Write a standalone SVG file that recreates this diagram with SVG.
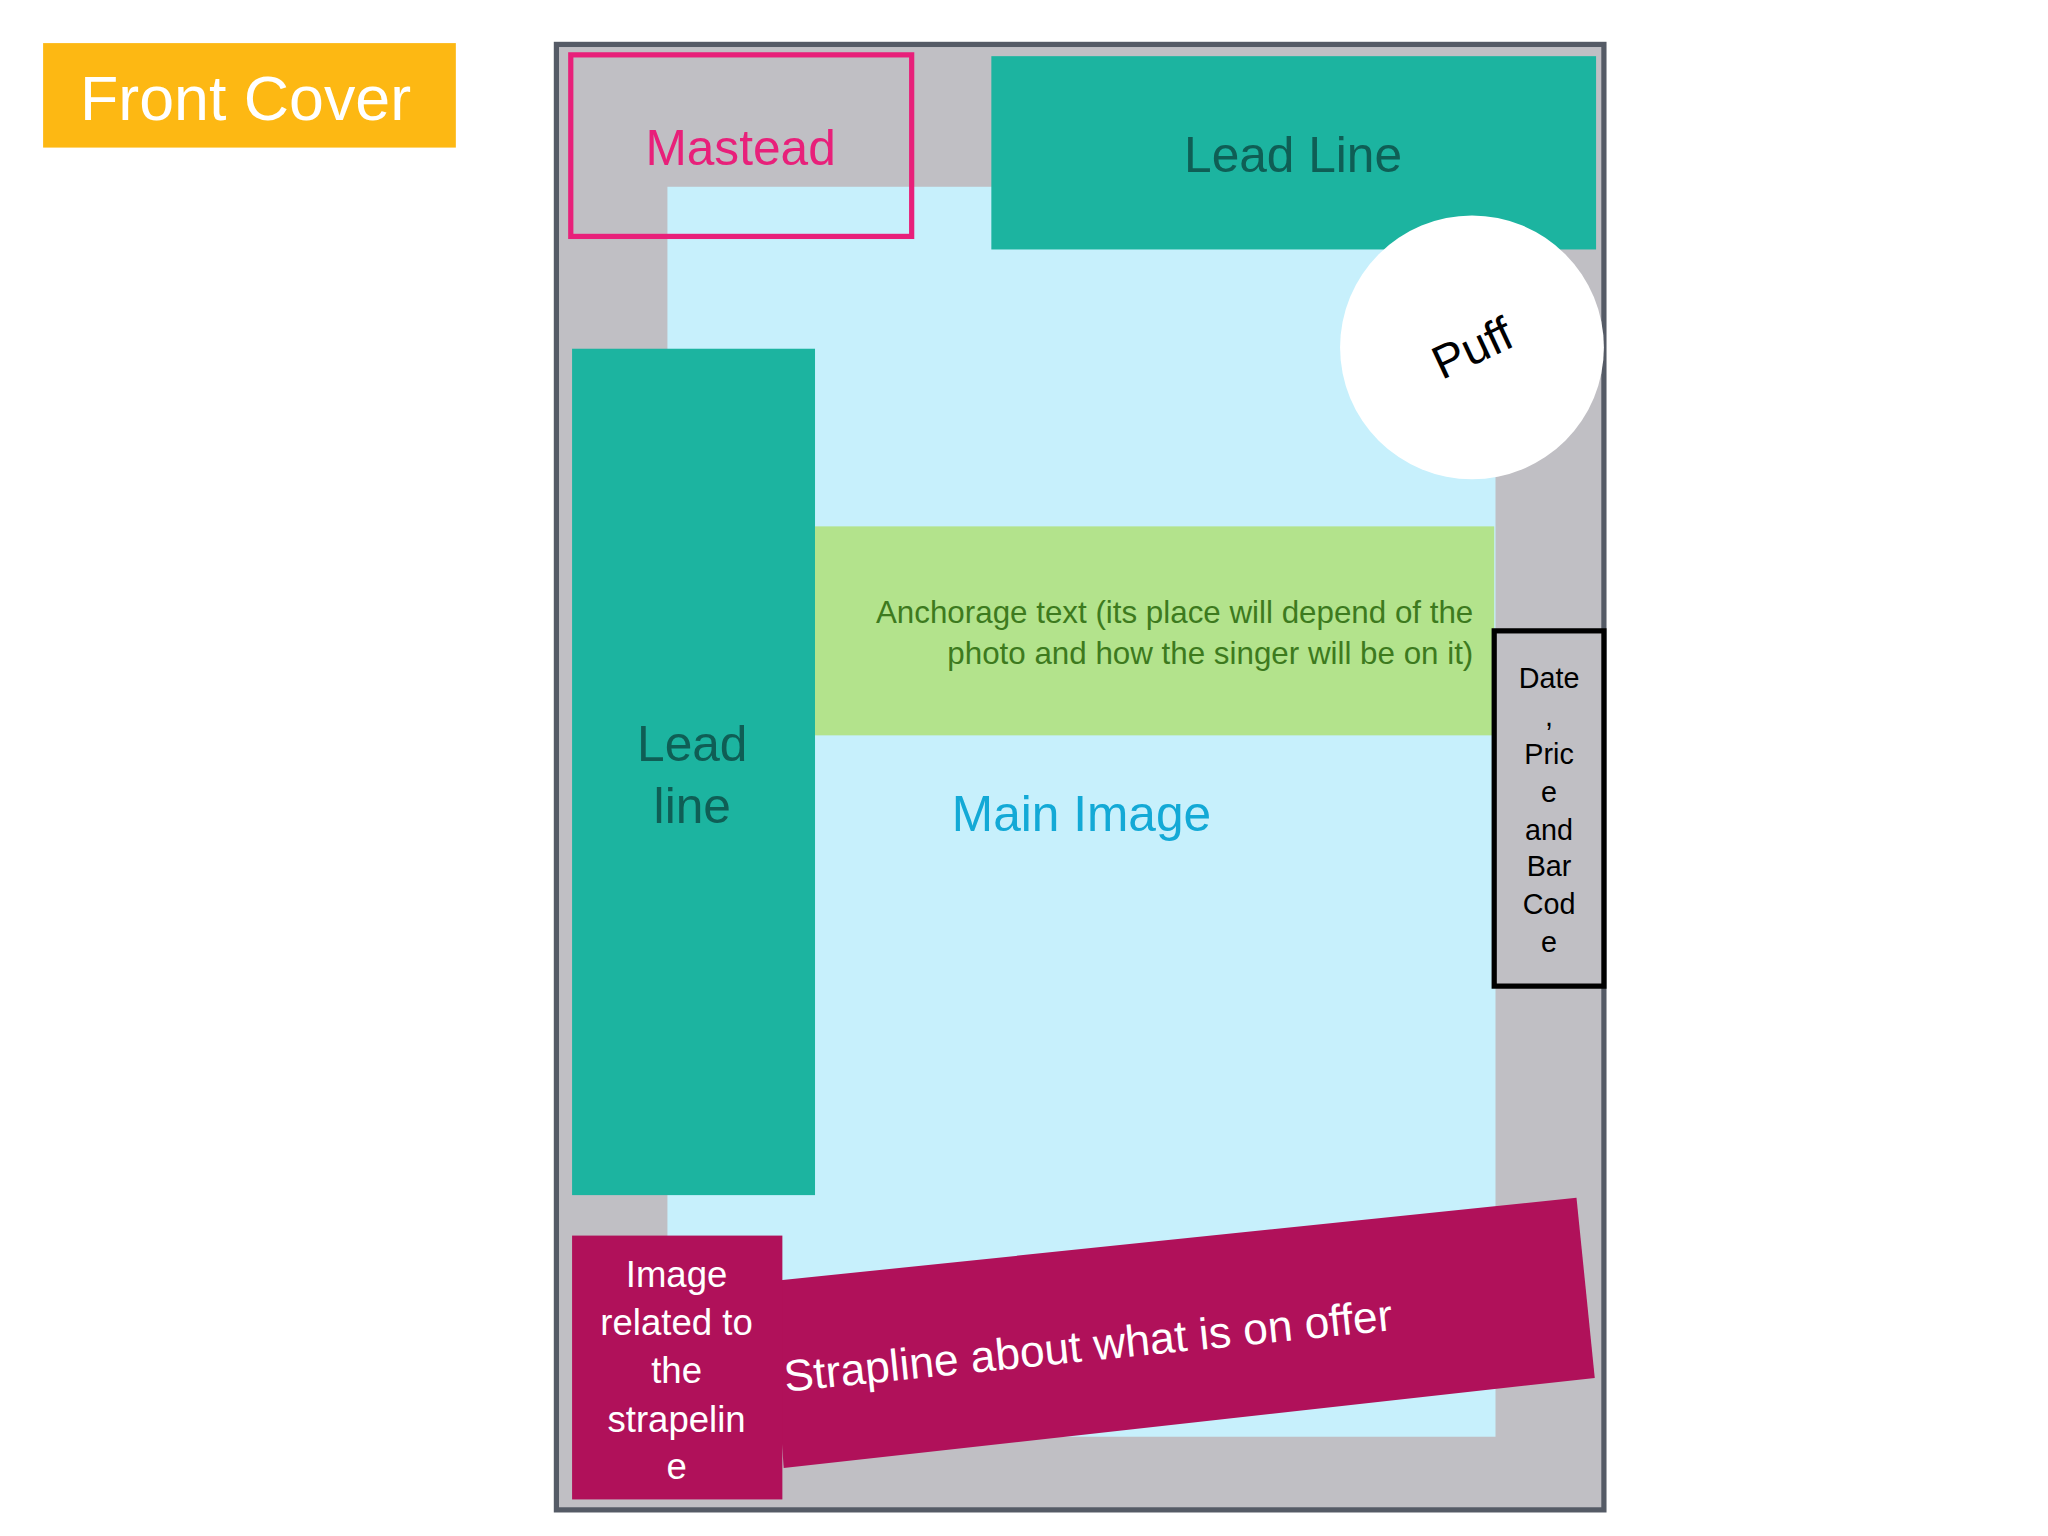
<svg xmlns="http://www.w3.org/2000/svg" width="2048" height="1536" viewBox="0 0 2048 1536">
<style>
text{font-family:"Liberation Sans",Arial,sans-serif;text-anchor:middle}
.w{fill:#fff}
</style>
<rect width="2048" height="1536" fill="#fff"/>
<g transform="scale(1.30612)">
<g id="title"><rect x="33" y="33" width="316" height="80" fill="#FDB813"/><text x="188" y="92" font-size="48" class="w">Front Cover</text></g>
<g id="page"><rect x="426" y="34" width="802" height="1122" fill="#C0BFC4" stroke="#555B66" stroke-width="4"/></g>
<g id="main"><rect x="511" y="143" width="634" height="957" fill="#C7F0FC"/><text x="828" y="636" font-size="38" fill="#13A9D6">Main Image</text></g>
<g id="mastead"><rect x="437" y="42" width="261" height="139" fill="none" stroke="#E8207A" stroke-width="4"/><text x="567" y="126" font-size="38" fill="#E8207A">Mastead</text></g>
<g id="leadtop"><rect x="759" y="43" width="463" height="148" fill="#1CB4A0"/><text x="990" y="132" font-size="38" fill="#0F5E55">Lead Line</text></g>
<g id="puff"><circle cx="1127" cy="266" r="101" fill="#fff"/><text x="1127" y="279" font-size="36" fill="#000" transform="rotate(-25 1127 266)">Puff</text></g>
<g id="leadleft"><rect x="438" y="267" width="186" height="648" fill="#1CB4A0"/><text x="530" y="583" font-size="38" fill="#0F5E55">Lead</text><text x="530" y="630" font-size="38" fill="#0F5E55">line</text></g>
<g id="anchor"><rect x="624" y="403" width="520" height="160" fill="#B3E38C"/><text x="1128" y="477" font-size="24" fill="#3D7A1E" text-anchor="end" style="text-anchor:end">Anchorage text (its place will depend of the</text><text x="1128" y="508" font-size="24" fill="#3D7A1E" style="text-anchor:end">photo and how the singer will be on it)</text></g>
<g id="date"><rect x="1144" y="483" width="84" height="272" fill="#C0BFC4" stroke="#000" stroke-width="4"/>
<g font-size="22" fill="#000"><text x="1186" y="527">Date</text><text x="1186" y="556">,</text><text x="1186" y="585">Pric</text><text x="1186" y="614">e</text><text x="1186" y="643">and</text><text x="1186" y="671">Bar</text><text x="1186" y="700">Cod</text><text x="1186" y="729">e</text></g></g>
<g id="strapline"><polygon points="590,981 1207,917 1221,1055 600,1124" fill="#B0115A"/><text x="833" y="1042" font-size="34" class="w" transform="rotate(-5.8 833 1030)">Strapline about what is on offer</text></g>
<g id="image"><rect x="438" y="946" width="161" height="202" fill="#B0115A"/>
<g font-size="28" class="w"><text x="518" y="985">Image</text><text x="518" y="1022">related to</text><text x="518" y="1059">the</text><text x="518" y="1096">strapelin</text><text x="518" y="1132">e</text></g></g>
<g id="connectors"/>
</g>
</svg>
